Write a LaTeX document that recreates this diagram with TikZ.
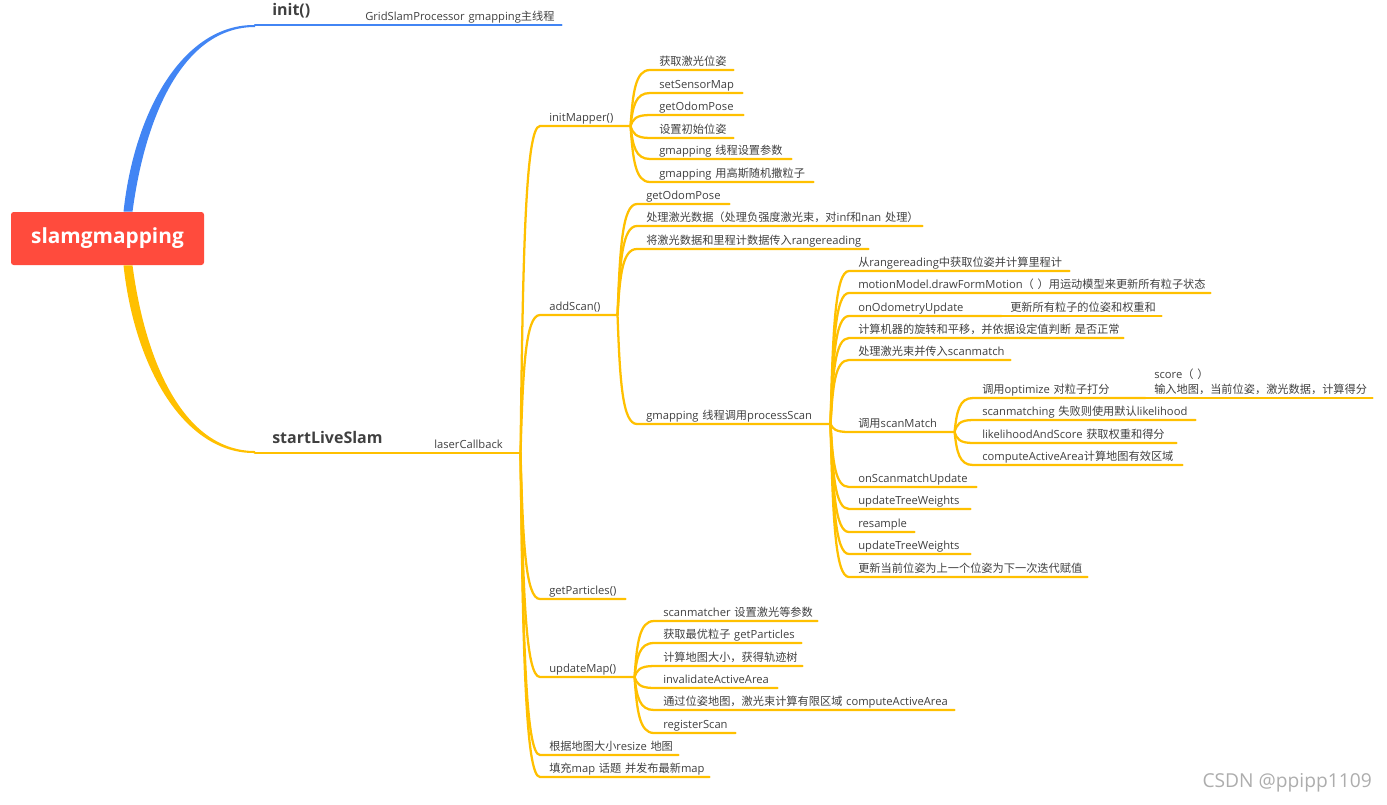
\documentclass[tikz,border=0pt]{standalone}
\usepackage{fontspec}
\setmainfont{Open Sans}
\newfontfamily\cjk{Noto Sans CJK SC}
\usetikzlibrary{calc}
\definecolor{rootred}{RGB}{255,75,61}
\definecolor{initblue}{RGB}{66,133,244}
\definecolor{slamgold}{RGB}{255,192,0}
\definecolor{inkgray}{RGB}{64,64,64}
\newcommand{\zh}[1]{{\cjk #1}}
\newcommand{\twig}[2]{\draw[bough] (#1.south east) .. controls ($(#1.south east)!0.6!($(#1.south east|-#2.south west)!0.2!(#2.south west)$)$) and ($(#2.south west)!0.75!(#1.south east|-#2.south west)$) .. (#2.south west) -- (#2.south east);}
\tikzset{
  bough/.style={slamgold, line width=1.7pt, line cap=round},
  leaf/.style={anchor=south west, inner xsep=6.75pt, inner ysep=1.5pt, text depth=1.9pt, text height=7pt,
    text width={(#1)*0.75pt-13.5pt}, align=left, text=inkgray, font={\fontsize{8.4}{11.25}\selectfont}},
  topic/.style={leaf=#1, inner xsep=12.75pt, text width={(#1)*0.75pt-25.5pt}, text depth=5.5pt, text height=9pt,
    font={\fontsize{12}{14}\selectfont\bfseries}}
}

\begin{document}
\begin{tikzpicture}[x=0.75pt,y=-0.75pt]
\useasboundingbox (0,0) rectangle (1387,804);
\node[fill=rootred, rounded corners=2pt, minimum width=144.75pt, minimum height=39.75pt, inner sep=0pt, text=white,
  font={\fontsize{15.6}{18}\selectfont\bfseries}] (root) at (107.5,238.5) {\raisebox{-1pt}{slamgmapping}};

% main branches
\node[topic=101] (init) at (255,25) {\mbox{init()}};
\node[leaf=205] (grid) at (356,25) {\mbox{GridSlamProcessor gmapping\zh{主线程}}};
\node[topic=170] (live) at (255,453) {\mbox{startLiveSlam}};
\node[leaf=95] (laser) at (425,453) {\mbox{laserCallback}};
\fill[initblue] ($(root.north)+(16,0)$) .. controls +(11,-102) and (184,24) .. (init.south west) -- ++(0,2) .. controls (186,27) and (146,110) .. ($(root.north)+(25,0)$) -- cycle;
\fill[slamgold] ($(root.south)+(16,0)$) .. controls +(11,102) and (184,454) .. (live.south west) -- ++(0,-2) .. controls (186,451) and (146,367) .. ($(root.south)+(25,0)$) -- cycle;
\draw[bough, initblue] (init.south west) -- (init.south east) -- (grid.south east);
\draw[bough] (live.south west) -- (live.south east) -- (laser.south east);

% laserCallback
\foreach \n/\xe/\yy/\txt in {imap/630/126/initMapper(), adds/617/315/addScan(), part/625/599/getParticles(), umap/634/677/updateMap(),
  resz/678/755/\zh{根据地图大小}resize \zh{地图}, pubm/709/777/\zh{填充}map \zh{话题 并发布最新}map}{
\node[leaf=\xe-540] (\n) at (540,\yy) {\mbox{\txt}};
\twig{laser}{\n}
}

% initMapper
\foreach \n/\xe/\yy/\txt in {ia/733/70/\zh{获取激光位姿}, ib/742/93/setSensorMap, ic/743/115/getOdomPose, id/733/138/\zh{设置初始位姿},
  ie/791/159/gmapping \zh{线程设置参数}, if/813/182/gmapping \zh{用高斯随机撒粒子}}{
\node[leaf=\xe-650] (\n) at (650,\yy) {\mbox{\txt}};
\twig{imap}{\n}
}

% addScan
\foreach \n/\xe/\yy/\txt in {aa/729/204/getOdomPose, ab/922/226/\zh{处理激光数据（处理负强度激光束，对}inf\zh{和}nan \zh{处理）},
  ac/868/249/\zh{将激光数据和里程计数据传入}rangereading, proc/830/424/gmapping \zh{线程调用}processScan}{
\node[leaf=\xe-637] (\n) at (637,\yy) {\mbox{\txt}};
\twig{adds}{\n}
}

% processScan
\foreach \n/\xe/\yy/\txt in {pa/1069/271/\zh{从}rangereading\zh{中获取位姿并计算里程计}, pb/1210/293/motionModel.drawFormMotion\zh{（ ）用运动模型来更新所有粒子状态},
  odom/1001/316/onOdometryUpdate, pd/1123/338/\zh{计算机器的旋转和平移，并依据设定值判断 是否正常}, pe/1010/360/\zh{处理激光束并传入}scanmatch,
  smat/954/432/\zh{调用}scanMatch, pg/976/487/onScanmatchUpdate, ph/970/509/updateTreeWeights, pi/914/532/resample,
  pj/970/554/updateTreeWeights, pk/1087/577/\zh{更新当前位姿为上一个位姿为下一次迭代赋值}}{
\node[leaf=\xe-849] (\n) at (849,\yy) {\mbox{\txt}};
\twig{proc}{\n}
}
\node[leaf=160] (oupd) at (1001,316) {\mbox{\zh{更新所有粒子的位姿和权重和}}};
\draw[bough] (odom.south east) -- (oupd.south east);

% scanMatch
\foreach \n/\xe/\yy/\txt in {opti/1145/398/\zh{调用}optimize \zh{对粒子打分}, sb/1195/420/scanmatching \zh{失败则使用默认}likelihood,
  sc/1176/443/likelihoodAndScore \zh{获取权重和得分}, sd/1182/465/computeActiveArea\zh{计算地图有效区域}}{
\node[leaf=\xe-973] (\n) at (973,\yy) {\mbox{\txt}};
\twig{smat}{\n}
}
\node[leaf=227, text depth=13.15pt] (scor) at (1145,398) {score\zh{（ ）}\\\zh{输入地图，当前位姿，激光数据，计算得分}};
\draw[bough] (opti.south east) -- (scor.south east);

% updateMap
\foreach \n/\xe/\yy/\txt in {ua/817/621/scanmatcher \zh{设置激光等参数}, ub/801/643/\zh{获取最优粒子} getParticles, uc/802/666/\zh{计算地图大小，获得轨迹树},
  ud/777/688/invalidateActiveArea, ue/954/710/\zh{通过位姿地图，激光束计算有限区域} computeActiveArea, uf/735/733/registerScan}{
\node[leaf=\xe-654] (\n) at (654,\yy) {\mbox{\txt}};
\twig{umap}{\n}
}

\node[text=black!32, anchor=east, inner sep=0pt, font={\fontsize{14.4}{16}\selectfont}] (mark) at (1372,783) {CSDN @ppipp1109};
\end{tikzpicture}
\end{document}
